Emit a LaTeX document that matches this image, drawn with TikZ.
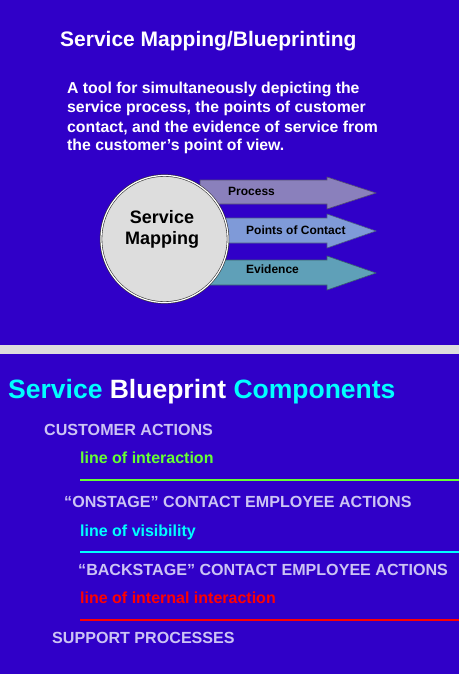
\documentclass[tikz,border=0pt]{standalone}
\usepackage{fontspec}
\setmainfont{Liberation Sans}
\definecolor{bg}{HTML}{3000C8}
\definecolor{band}{HTML}{DDDDDD}
\definecolor{lav}{HTML}{CCC4F4}
\definecolor{procc}{HTML}{8A80BC}
\definecolor{pocc}{HTML}{7F9AD8}
\definecolor{evic}{HTML}{5FA0B8}
\definecolor{greenl}{HTML}{66FF33}
\definecolor{cyanl}{HTML}{00FFFF}
\definecolor{redl}{HTML}{FF0000}
\definecolor{circg}{HTML}{DDDDDD}
\begin{document}
\begin{tikzpicture}[x=1pt,y=-1pt,
  txt/.style={anchor=base west, inner sep=0pt, font=\bfseries},
  capsline/.style={txt, text=lav, font=\fontsize{16.1}{19}\selectfont\bfseries},
  arrowlbl/.style={anchor=base west, inner sep=0pt, font=\fontsize{12}{14}\selectfont\bfseries, text=black},
  arrowbody/.style={draw=#1!60!black, line width=0.6pt, fill=#1},
  sepline/.style={line width=1.2pt, draw=#1}]
\fill[bg] (0,0) rectangle (459,674);
\useasboundingbox (0,0) rectangle (459,674);
% top section
\node[txt, text=white, font=\fontsize{21}{24}\selectfont\bfseries] (title) at (60,47) {Service Mapping/Blueprinting};
\node[txt, text=white, font=\fontsize{15.8}{19}\selectfont\bfseries] (p1) at (67,94) {A tool for simultaneously depicting the};
\node[txt, text=white, font=\fontsize{15.8}{19}\selectfont\bfseries] (p2) at (67,113) {service process, the points of customer};
\node[txt, text=white, font=\fontsize{15.8}{19}\selectfont\bfseries] (p3) at (67,132) {contact, and the evidence of service from};
\node[txt, text=white, font=\fontsize{15.8}{19}\selectfont\bfseries] (p4) at (67,150) {the customer’s point of view.};
% arrows
\draw[arrowbody=procc] (200,180) -- (327,180) -- (327,177) -- (376,193) -- (327,209) -- (327,204) -- (200,204) -- cycle;
\draw[arrowbody=pocc] (200,218) -- (327,218) -- (327,214) -- (376,231) -- (327,248) -- (327,243) -- (200,243) -- cycle;
\draw[arrowbody=evic] (200,260) -- (327,260) -- (327,256) -- (376,273) -- (327,290) -- (327,285) -- (200,285) -- cycle;
\node[arrowlbl] (lproc) at (228,195) {Process};
\node[arrowlbl] (lpoc) at (246,234) {Points of Contact};
\node[arrowlbl] (levi) at (246,273) {Evidence};
% circle
\node[circle, minimum size=127pt, inner sep=0pt, fill=circg, draw=black!80, double=white, double distance=1.2pt, line width=0.6pt] (sm) at (164.5,239) {};
\node[anchor=base, inner sep=0pt, font=\fontsize{18}{21}\selectfont\bfseries, text=black] (sm1) at (162,223) {Service};
\node[anchor=base, inner sep=0pt, font=\fontsize{18}{21}\selectfont\bfseries, text=black] (sm2) at (162,244) {Mapping};
% band
\fill[band] (0,345) rectangle (459,354);
% lower section
\node[txt, font=\fontsize{26.5}{30}\selectfont\bfseries] (hdr) at (8,398) {\textcolor{cyanl}{Service} \textcolor{white}{Blueprint} \textcolor{cyanl}{Components}};
\node[capsline] (ca) at (44,435) {CUSTOMER ACTIONS};
\node[txt, text=greenl, font=\fontsize{16}{19}\selectfont\bfseries] (loi) at (80,463) {line of interaction};
\draw[sepline=greenl] (80,480) -- (459,480);
\node[capsline] (on) at (64,507) {“ONSTAGE” CONTACT EMPLOYEE ACTIONS};
\node[txt, text=cyanl, font=\fontsize{16}{19}\selectfont\bfseries] (lov) at (80,536) {line of visibility};
\draw[sepline=cyanl] (80,552) -- (459,552);
\node[capsline] (back) at (78,575) {“BACKSTAGE” CONTACT EMPLOYEE ACTIONS};
\node[txt, text=redl, font=\fontsize{16}{19}\selectfont\bfseries] (loii) at (80,603) {line of internal interaction};
\draw[sepline=redl] (80,620) -- (459,620);
\node[capsline] (sp) at (52,643) {SUPPORT PROCESSES};
\end{tikzpicture}
\end{document}
